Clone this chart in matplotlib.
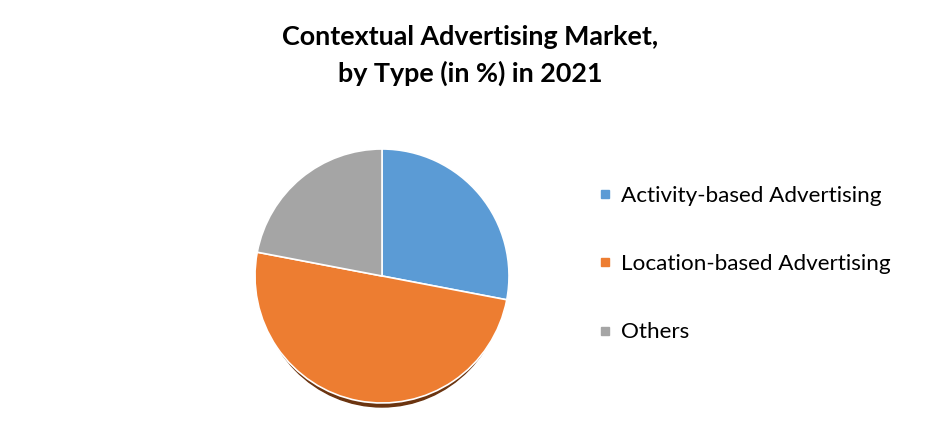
import numpy as np
import matplotlib.pyplot as plt
from matplotlib.lines import Line2D
from matplotlib.patches import Ellipse

plt.rcParams['font.family'] = ['Lato', 'DejaVu Sans']

# Data
types = ["Activity-based Advertising", "Location-based Advertising", "Others"]
shares = [28, 50, 22]
colors = ["#5B9BD5", "#ED7D31", "#A5A5A5"]

W, H = 940, 447
fig = plt.figure(figsize=(W / 100, H / 100), dpi=100)
ax = fig.add_axes([0, 0, 1, 1])

cx, cy, r = 382, H - 276, 127

# soft shadow under the pie
ax.add_patch(Ellipse((cx, cy - 4), 2 * r - 8, 2 * r, color="#6b3410", zorder=1))

ax.pie(shares, colors=colors, startangle=90, counterclock=False,
       center=(cx, cy), radius=r, frame=True,
       wedgeprops=dict(edgecolor="white", linewidth=1.2, zorder=2))
ax.set_xlim(0, W)
ax.set_ylim(0, H)
ax.set_aspect("equal")
ax.axis("off")

fig.text(0.5, 1 - 37 / H, "Contextual Advertising Market,", ha="center", va="center",
         fontsize=19.4, fontweight="bold")
fig.text(0.5, 1 - 73 / H, "by Type (in %) in 2021", ha="center", va="center",
         fontsize=19.4, fontweight="bold")

handles = [Line2D([], [], marker="s", linestyle="none", markersize=6,
                  markerfacecolor=c, markeredgecolor=c) for c in colors]
fig.legend(handles, types, loc="center left", bbox_to_anchor=(587 / W, 1 - 264 / H),
           frameon=False, fontsize=16.2, labelspacing=2.15, handlelength=0.6,
           handletextpad=0.4, borderpad=0)

fig.savefig("out.png", dpi=100)
